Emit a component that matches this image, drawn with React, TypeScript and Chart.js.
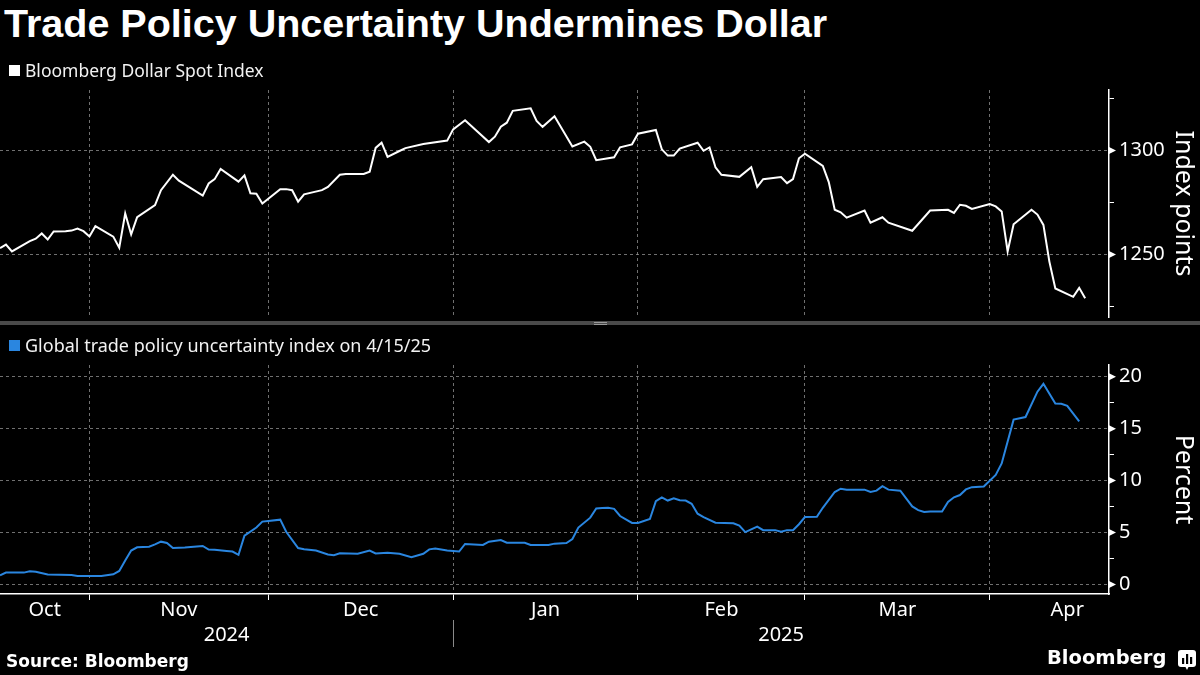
import React, { useEffect, useRef } from "react";
import { Chart, registerables } from "chart.js";

Chart.register(...registerables);

// Bloomberg Dollar Spot Index (index points)
const dollarDates = [
  "2024-10-17", "2024-10-18", "2024-10-19", "2024-10-22", "2024-10-23", "2024-10-24", "2024-10-25", "2024-10-26", "2024-10-28", "2024-10-29",
  "2024-10-30", "2024-10-31", "2024-11-01", "2024-11-02", "2024-11-05", "2024-11-06", "2024-11-07", "2024-11-08", "2024-11-09", "2024-11-12",
  "2024-11-13", "2024-11-15", "2024-11-16", "2024-11-20", "2024-11-21", "2024-11-22", "2024-11-23", "2024-11-26", "2024-11-27", "2024-11-28",
  "2024-11-29", "2024-11-30", "2024-12-03", "2024-12-04", "2024-12-05", "2024-12-06", "2024-12-07", "2024-12-10", "2024-12-11", "2024-12-13",
  "2024-12-14", "2024-12-17", "2024-12-18", "2024-12-19", "2024-12-20", "2024-12-21", "2024-12-23", "2024-12-24", "2024-12-27", "2024-12-31",
  "2025-01-01", "2025-01-03", "2025-01-07", "2025-01-08", "2025-01-09", "2025-01-10", "2025-01-11", "2025-01-14", "2025-01-15", "2025-01-16",
  "2025-01-18", "2025-01-21", "2025-01-23", "2025-01-24", "2025-01-25", "2025-01-28", "2025-01-29", "2025-01-31", "2025-02-01", "2025-02-04",
  "2025-02-05", "2025-02-06", "2025-02-07", "2025-02-08", "2025-02-11", "2025-02-12", "2025-02-13", "2025-02-14", "2025-02-15", "2025-02-18",
  "2025-02-20", "2025-02-21", "2025-02-22", "2025-02-25", "2025-02-26", "2025-02-27", "2025-02-28", "2025-03-01", "2025-03-04", "2025-03-05",
  "2025-03-06", "2025-03-07", "2025-03-08", "2025-03-11", "2025-03-12", "2025-03-14", "2025-03-15", "2025-03-19", "2025-03-22", "2025-03-25",
  "2025-03-26", "2025-03-27", "2025-03-28", "2025-03-29", "2025-04-01", "2025-04-02", "2025-04-03", "2025-04-04", "2025-04-05", "2025-04-08",
  "2025-04-09", "2025-04-10", "2025-04-11", "2025-04-12", "2025-04-15", "2025-04-16", "2025-04-17",
];
const dollarValues = [
  1253.1, 1254.8, 1251.5, 1256.4, 1257.6, 1260.1, 1257.2, 1261.1, 1261.2, 1261.5,
  1262.5, 1261.2, 1258.7, 1263.6, 1258.6, 1253.3, 1269.7, 1259.7, 1267.9, 1273.7,
  1280.9, 1288.3, 1285.5, 1278.3, 1284.1, 1286.2, 1291.1, 1285.0, 1288.0, 1279.4,
  1279.2, 1274.5, 1281.4, 1281.4, 1280.9, 1275.4, 1278.9, 1280.9, 1282.5, 1288.3,
  1288.7, 1288.7, 1289.8, 1301.2, 1303.7, 1296.9, 1299.7, 1301.1, 1303.1, 1304.7,
  1310.1, 1314.5, 1304.0, 1306.6, 1311.4, 1313.3, 1319.0, 1320.2, 1314.1, 1311.3,
  1316.4, 1301.9, 1304.2, 1301.7, 1295.3, 1296.7, 1301.5, 1302.9, 1308.0, 1309.8,
  1300.5, 1297.5, 1297.5, 1300.9, 1303.7, 1299.8, 1301.4, 1291.9, 1288.3, 1287.3,
  1291.9, 1282.5, 1286.2, 1287.2, 1284.3, 1286.2, 1296.2, 1298.4, 1292.6, 1284.8,
  1271.5, 1270.3, 1267.7, 1271.1, 1265.3, 1267.9, 1265.3, 1261.4, 1271.1, 1271.5,
  1270.0, 1273.9, 1273.4, 1271.9, 1274.2, 1273.1, 1270.7, 1251.5, 1264.5, 1271.5,
  1269.2, 1264.2, 1246.6, 1233.7, 1229.7, 1234.0, 1229.0,
];

// Global trade policy uncertainty index (percent)
const tpuDates = [
  "2024-10-17", "2024-10-18", "2024-10-21", "2024-10-22", "2024-10-23", "2024-10-25", "2024-10-29", "2024-10-30", "2024-11-03", "2024-11-05",
  "2024-11-06", "2024-11-07", "2024-11-08", "2024-11-09", "2024-11-11", "2024-11-12", "2024-11-13", "2024-11-14", "2024-11-15", "2024-11-17",
  "2024-11-18", "2024-11-20", "2024-11-21", "2024-11-22", "2024-11-24", "2024-11-25", "2024-11-26", "2024-11-27", "2024-11-29", "2024-11-30",
  "2024-12-01", "2024-12-03", "2024-12-04", "2024-12-06", "2024-12-07", "2024-12-09", "2024-12-11", "2024-12-12", "2024-12-13", "2024-12-16",
  "2024-12-18", "2024-12-19", "2024-12-21", "2024-12-23", "2024-12-25", "2024-12-27", "2024-12-28", "2024-12-29", "2024-12-31", "2025-01-02",
  "2025-01-03", "2025-01-06", "2025-01-07", "2025-01-09", "2025-01-10", "2025-01-13", "2025-01-14", "2025-01-17", "2025-01-18", "2025-01-20",
  "2025-01-21", "2025-01-22", "2025-01-24", "2025-01-25", "2025-01-26", "2025-01-27", "2025-01-28", "2025-01-29", "2025-01-31", "2025-02-01",
  "2025-02-03", "2025-02-04", "2025-02-05", "2025-02-06", "2025-02-07", "2025-02-08", "2025-02-09", "2025-02-10", "2025-02-11", "2025-02-12",
  "2025-02-14", "2025-02-17", "2025-02-18", "2025-02-19", "2025-02-21", "2025-02-22", "2025-02-24", "2025-02-25", "2025-02-26", "2025-02-27",
  "2025-02-28", "2025-03-01", "2025-03-03", "2025-03-04", "2025-03-06", "2025-03-07", "2025-03-08", "2025-03-11", "2025-03-12", "2025-03-13",
  "2025-03-14", "2025-03-15", "2025-03-17", "2025-03-19", "2025-03-20", "2025-03-21", "2025-03-22", "2025-03-24", "2025-03-25", "2025-03-26",
  "2025-03-27", "2025-03-28", "2025-03-29", "2025-03-31", "2025-04-02", "2025-04-03", "2025-04-05", "2025-04-07", "2025-04-09", "2025-04-10",
  "2025-04-12", "2025-04-13", "2025-04-14", "2025-04-16",
];
const tpuValues = [
  0.88, 1.14, 1.14, 1.26, 1.23, 0.95, 0.92, 0.82, 0.82, 0.98,
  1.3, 2.31, 3.26, 3.58, 3.64, 3.86, 4.12, 3.99, 3.51, 3.55,
  3.61, 3.71, 3.36, 3.33, 3.23, 3.17, 2.85, 4.69, 5.48, 6.05,
  6.11, 6.24, 5.07, 3.51, 3.38, 3.26, 2.88, 2.82, 3.0, 2.95,
  3.26, 2.98, 3.04, 2.95, 2.63, 2.95, 3.38, 3.45, 3.26, 3.17,
  3.9, 3.8, 4.12, 4.28, 4.02, 4.02, 3.8, 3.8, 3.93, 3.99,
  4.37, 5.48, 6.43, 7.32, 7.35, 7.38, 7.28, 6.59, 5.92, 5.92,
  6.3, 8.01, 8.39, 8.08, 8.3, 8.11, 8.08, 7.76, 6.81, 6.49,
  5.95, 5.89, 5.67, 5.04, 5.57, 5.23, 5.23, 5.07, 5.23, 5.23,
  5.8, 6.49, 6.52, 7.38, 8.9, 9.22, 9.13, 9.13, 8.9, 9.03,
  9.47, 9.13, 9.03, 7.51, 7.16, 6.97, 7.03, 7.03, 7.95, 8.39,
  8.61, 9.15, 9.37, 9.44, 10.55, 11.65, 15.87, 16.12, 18.56, 19.32,
  17.42, 17.39, 17.2, 15.71,
];

// Shared time axis
const axisStart = "2024-10-17";
const axisEnd = "2025-04-21";
const monthStarts = ["2024-11-01", "2024-12-01", "2025-01-01", "2025-02-01", "2025-03-01", "2025-04-01"];
const monthNames = ["Oct", "Nov", "Dec", "Jan", "Feb", "Mar", "Apr"];
// label centres, in days after 1 Oct 2024
const monthLabelDays = [23.5, 46, 76.5, 107.5, 137, 166.5, 195];
const yearNames = ["2024", "2025"];
const yearBoundary = "2025-01-01";

// Value axes
const dollarTicks = [1225, 1250, 1275, 1300, 1325];
const dollarLabelled = [1250, 1300];
const dollarRange = [1220, 1329];
const tpuTicks = [0, 2.5, 5, 7.5, 10, 12.5, 15, 17.5, 20];
const tpuLabelled = [0, 5, 10, 15, 20];
const tpuRange = [-0.92, 21.13];

const WHITE = "#ffffff";
const BLUE = "#2a86e0";
const GRID = "rgba(150,150,150,0.75)";
const FONT = '"Noto Sans", "Open Sans", sans-serif';
const HEAD = '"Liberation Sans", Arial, sans-serif';
const BOLD = '"DejaVu Sans", "Liberation Sans", sans-serif';

const ORIGIN = Date.UTC(2024, 9, 1);
const dayOf = (s: string) => (Date.parse(s + "T00:00:00Z") - ORIGIN) / 86400000;

const toPoints = (dates: string[], values: number[]) =>
  dates.map((d, i) => ({ x: dayOf(d), y: values[i] }));

const markerPlugin = (labelled: number[]) => ({
  id: "majorMarkers",
  afterDraw(chart: any) {
    const ys = chart.scales.y;
    const ctx = chart.ctx;
    ctx.save();
    ctx.fillStyle = WHITE;
    labelled.forEach((v) => {
      const y = ys.getPixelForValue(v);
      ctx.beginPath();
      ctx.moveTo(ys.left, y - 3.5);
      ctx.lineTo(ys.left + 7, y);
      ctx.lineTo(ys.left, y + 3.5);
      ctx.closePath();
      ctx.fill();
    });
    ctx.restore();
  },
});

const timeLabelsPlugin = {
  id: "timeLabels",
  afterDraw(chart: any) {
    const xs = chart.scales.x;
    const ctx = chart.ctx;
    ctx.save();
    ctx.fillStyle = WHITE;
    ctx.font = `20px ${FONT}`;
    ctx.textAlign = "center";
    ctx.textBaseline = "middle";
    monthNames.forEach((m, i) => {
      ctx.fillText(m, xs.getPixelForValue(monthLabelDays[i]), xs.top + 16);
    });
    const split = dayOf(yearBoundary);
    const yearCentres = [
      (dayOf(axisStart) + split) / 2,
      (split + dayOf(axisEnd)) / 2,
    ];
    yearNames.forEach((y, i) => {
      ctx.fillText(y, xs.getPixelForValue(yearCentres[i]), xs.top + 41);
    });
    const sx = Math.round(xs.getPixelForValue(split)) + 0.5;
    ctx.strokeStyle = "#8a8a8a";
    ctx.lineWidth = 1;
    ctx.beginPath();
    ctx.moveTo(sx, xs.top + 26);
    ctx.lineTo(sx, xs.top + 53);
    ctx.stroke();
    ctx.restore();
  },
};

function valueAxis(
  ticks: number[],
  labelled: number[],
  range: number[],
  title: string
) {
  return {
    type: "linear" as const,
    position: "right" as const,
    min: range[0],
    max: range[1],
    afterFit: (s: any) => {
      s.width = 91;
    },
    afterBuildTicks: (s: any) => {
      s.ticks = ticks.map((v) => ({ value: v }));
    },
    ticks: {
      color: WHITE,
      padding: 5,
      font: { family: FONT, size: 20 },
      callback: (v: any) => (labelled.includes(Number(v)) ? String(v) : ""),
    },
    grid: {
      color: (c: any) => (c.tick && labelled.includes(c.tick.value) ? GRID : "rgba(0,0,0,0)"),
      lineWidth: 1,
      drawTicks: true,
      tickLength: 5,
      tickColor: WHITE,
      tickWidth: 1,
      tickBorderDash: [],
    },
    border: { display: true, color: WHITE, width: 1.5, dash: [3, 3] },
    title: {
      display: true,
      text: title,
      color: WHITE,
      font: { family: FONT, size: 25 },
      padding: { top: 2, bottom: 0 },
    },
  };
}

function timeAxis(withTicks: boolean) {
  return {
    type: "linear" as const,
    position: "bottom" as const,
    min: dayOf(axisStart),
    max: dayOf(axisEnd),
    afterFit: (s: any) => {
      s.height = withTicks ? 60 : 0;
    },
    afterBuildTicks: (s: any) => {
      s.ticks = monthStarts.map((d) => ({ value: dayOf(d) }));
    },
    ticks: { display: false },
    grid: {
      color: GRID,
      lineWidth: 1,
      drawTicks: withTicks,
      tickLength: 6,
      tickColor: WHITE,
      tickWidth: 1,
      tickBorderDash: [],
    },
    border: { display: withTicks, color: WHITE, width: 1.5, dash: [3, 3] },
  };
}

export default function App() {
  const topRef = useRef<HTMLCanvasElement>(null);
  const bottomRef = useRef<HTMLCanvasElement>(null);

  useEffect(() => {
    const common = {
      responsive: false,
      maintainAspectRatio: false,
      animation: false as const,
      devicePixelRatio: 1,
      layout: { padding: { top: 14, bottom: 14, left: 0, right: 0 } },
      plugins: { legend: { display: false }, tooltip: { enabled: false } },
      elements: { point: { radius: 0 }, line: { tension: 0 } },
    };

    const topChart = new Chart(topRef.current!, {
      type: "line",
      data: {
        datasets: [
          {
            label: "Bloomberg Dollar Spot Index",
            data: toPoints(dollarDates, dollarValues),
            borderColor: WHITE,
            borderWidth: 2,
            pointRadius: 0,
          },
        ],
      },
      options: {
        ...common,
        scales: {
          x: timeAxis(false),
          y: valueAxis(dollarTicks, dollarLabelled, dollarRange, "Index points"),
        },
      } as any,
      plugins: [markerPlugin(dollarLabelled)],
    });

    const bottomChart = new Chart(bottomRef.current!, {
      type: "line",
      data: {
        datasets: [
          {
            label: "Global trade policy uncertainty index on 4/15/25",
            data: toPoints(tpuDates, tpuValues),
            borderColor: BLUE,
            borderWidth: 2,
            pointRadius: 0,
          },
        ],
      },
      options: {
        ...common,
        layout: { padding: { top: 14, bottom: 0, left: 0, right: 0 } },
        scales: {
          x: timeAxis(true),
          y: valueAxis(tpuTicks, tpuLabelled, tpuRange, "Percent"),
        },
      } as any,
      plugins: [markerPlugin(tpuLabelled), timeLabelsPlugin],
    });

    return () => {
      topChart.destroy();
      bottomChart.destroy();
    };
  }, []);

  const legendRow = (top: number, color: string, text: string, size: number) => (
    <div
      style={{
        position: "absolute",
        left: 9,
        top,
        height: 12,
        display: "flex",
        alignItems: "center",
        whiteSpace: "nowrap",
      }}
    >
      <div style={{ width: 11, height: 11, background: color, marginRight: 5 }} />
      <span style={{ fontFamily: FONT, fontSize: size, lineHeight: "12px", color: "#f2f2f2" }}>{text}</span>
    </div>
  );

  return (
    <div
      style={{
        position: "absolute",
        left: 0,
        top: 0,
        width: 1200,
        height: 675,
        background: "#000",
        overflow: "hidden",
        color: WHITE,
      }}
    >
      <canvas
        ref={topRef}
        width={1200}
        height={261}
        style={{ position: "absolute", left: 0, top: 73 }}
      />
      <canvas
        ref={bottomRef}
        width={1200}
        height={306}
        style={{ position: "absolute", left: 0, top: 348 }}
      />

      <div
        style={{
          position: "absolute",
          left: 4,
          top: 4,
          fontFamily: HEAD,
          fontWeight: 700,
          fontSize: 39.5,
          lineHeight: 1,
          whiteSpace: "nowrap",
        }}
      >
        Trade Policy Uncertainty Undermines Dollar
      </div>

      {legendRow(64, WHITE, "Bloomberg Dollar Spot Index", 17.5)}
      {legendRow(339, BLUE, "Global trade policy uncertainty index on 4/15/25", 18)}

      {/* panel divider with grip */}
      <div style={{ position: "absolute", left: 0, top: 321, width: 1200, height: 4, background: "#4a4a4a" }} />
      <div style={{ position: "absolute", left: 594, top: 322, width: 13, height: 1, background: "#9a9a9a" }} />
      <div style={{ position: "absolute", left: 594, top: 324, width: 13, height: 1, background: "#9a9a9a" }} />

      <div
        style={{
          position: "absolute",
          left: 6,
          top: 653,
          fontFamily: BOLD,
          fontWeight: 700,
          fontSize: 17,
          lineHeight: 1,
          whiteSpace: "nowrap",
        }}
      >
        Source: Bloomberg
      </div>

      <div
        style={{
          position: "absolute",
          left: 1047,
          top: 648,
          fontFamily: BOLD,
          fontWeight: 700,
          fontSize: 19.5,
          lineHeight: 1,
          whiteSpace: "nowrap",
        }}
      >
        Bloomberg
      </div>
      <svg
        width={19}
        height={21}
        viewBox="0 0 19 21"
        style={{ position: "absolute", left: 1178, top: 650 }}
      >
        <rect x={0} y={0} width={18} height={17} rx={3} fill={WHITE} />
        <polygon points="7,16 11,16 9,20" fill={WHITE} />
        <rect x={4} y={8} width={2.2} height={6} fill="#000" />
        <rect x={8} y={4} width={2.2} height={10} fill="#000" />
        <rect x={12} y={7} width={2.2} height={7} fill="#000" />
      </svg>
    </div>
  );
}
